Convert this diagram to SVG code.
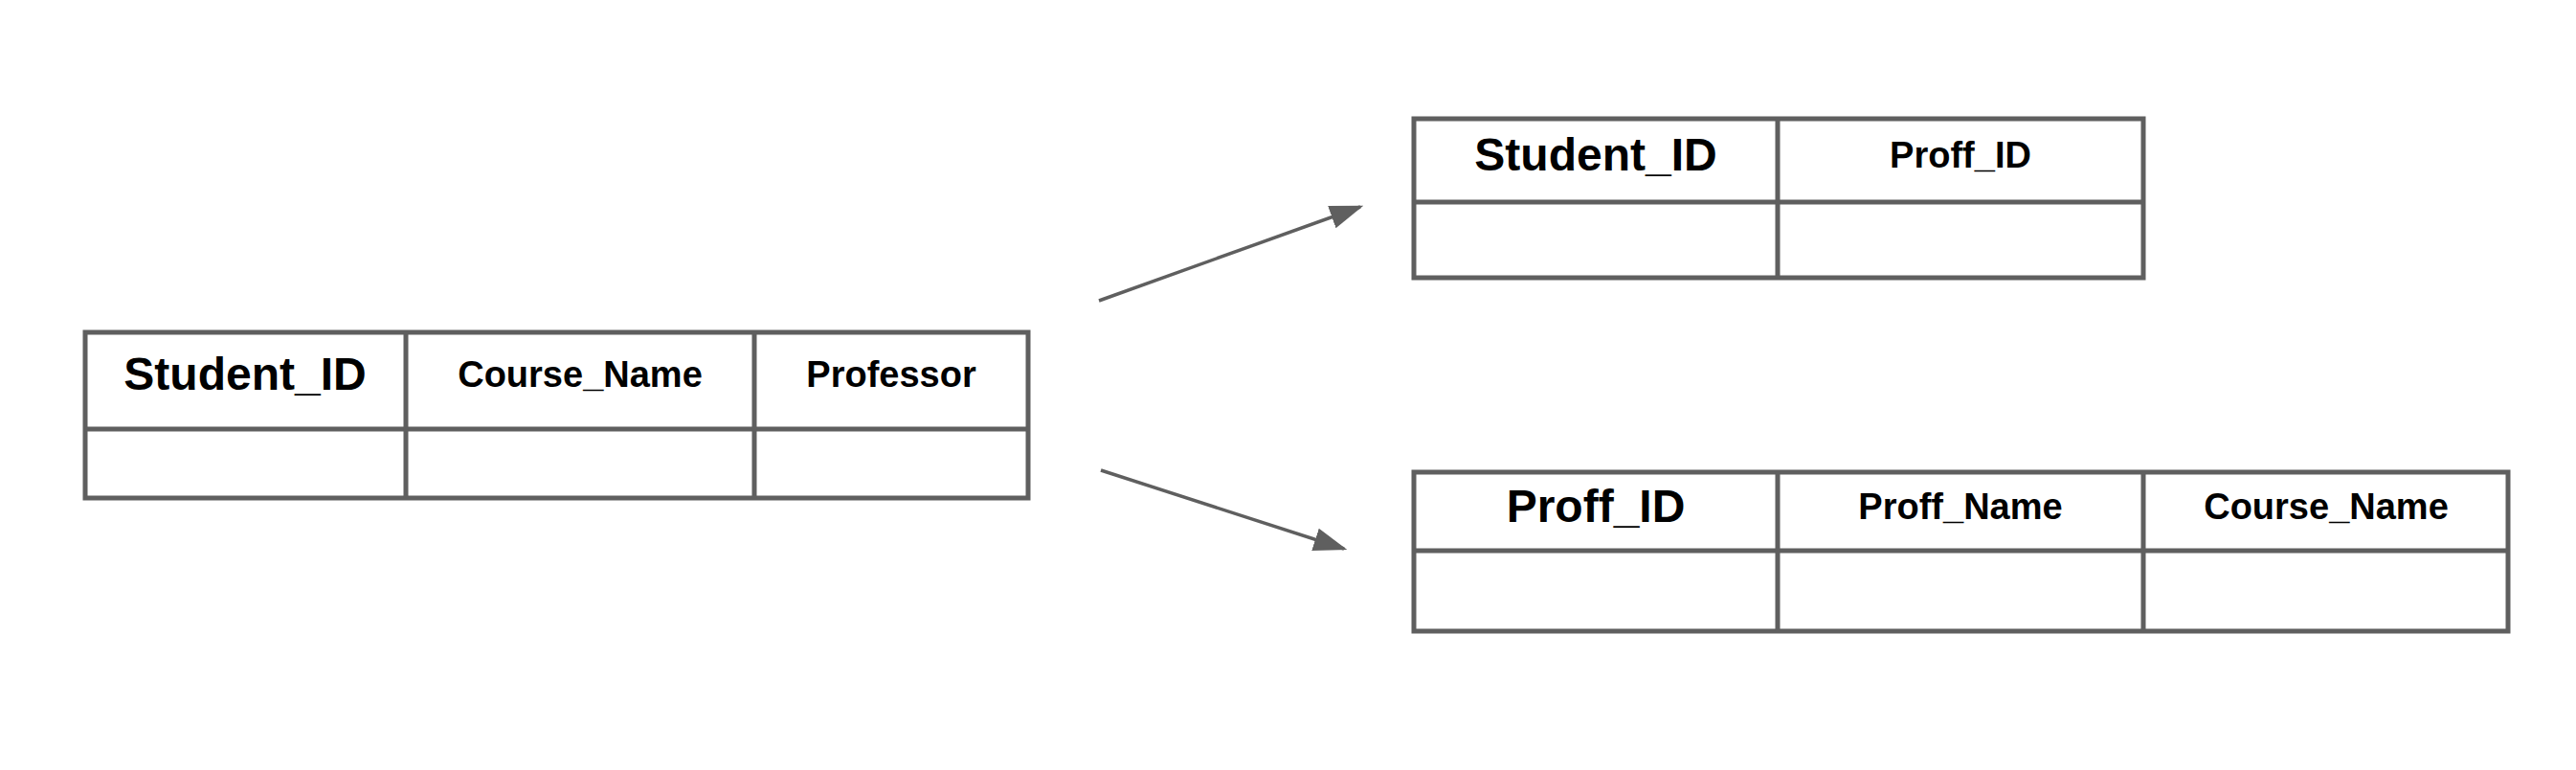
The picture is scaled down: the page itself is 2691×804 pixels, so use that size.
<svg xmlns="http://www.w3.org/2000/svg" width="2691" height="804" viewBox="0 0 2691 804">
<style>
.t{fill:#fff;stroke:#5f5f5f;stroke-width:5}
.l{stroke:#5f5f5f;stroke-width:5;fill:none}
.big{font-family:"Liberation Sans",Arial,sans-serif;font-weight:bold;font-size:48px;text-anchor:middle;fill:#000}
.sm{font-family:"Liberation Sans",Arial,sans-serif;font-weight:bold;font-size:38px;text-anchor:middle;fill:#000}
.c{stroke:#5f5f5f;stroke-width:3.5;fill:none}
</style>
<defs><marker id="a" viewBox="0 0 10 10" refX="9" refY="5" markerWidth="9" markerHeight="9" markerUnits="userSpaceOnUse" orient="auto"><path d="M0,0 L10,5 L0,10 z" fill="#5f5f5f"/></marker>
<marker id="b" viewBox="0 0 10 10" refX="9" refY="5" markerWidth="10" markerHeight="10" orient="auto"><path d="M0,1.5 L10,5 L0,8.5 z" fill="#5f5f5f"/></marker></defs>
<rect width="2691" height="804" fill="#fff"/>
<g id="table1">
<rect class="t" x="89" y="347" width="985" height="173"/>
<line class="l" x1="89" y1="448" x2="1074" y2="448"/>
<line class="l" x1="424" y1="347" x2="424" y2="520"/>
<line class="l" x1="788" y1="347" x2="788" y2="520"/>
<text class="big" x="256" y="407">Student_ID</text>
<text class="sm" x="606" y="404">Course_Name</text>
<text class="sm" x="931" y="404">Professor</text>
</g>
<g id="table2">
<rect class="t" x="1477" y="124" width="762" height="166"/>
<line class="l" x1="1477" y1="211" x2="2239" y2="211"/>
<line class="l" x1="1857" y1="124" x2="1857" y2="290"/>
<text class="big" x="1667" y="178">Student_ID</text>
<text class="sm" x="2048" y="175">Proff_ID</text>
</g>
<g id="table3">
<rect class="t" x="1477" y="493" width="1143" height="166"/>
<line class="l" x1="1477" y1="575" x2="2620" y2="575"/>
<line class="l" x1="1857" y1="493" x2="1857" y2="659"/>
<line class="l" x1="2239" y1="493" x2="2239" y2="659"/>
<text class="big" x="1667" y="545">Proff_ID</text>
<text class="sm" x="2048" y="542">Proff_Name</text>
<text class="sm" x="2430" y="542">Course_Name</text>
</g>
<g id="connectors">
<line class="c" x1="1148" y1="314" x2="1421" y2="216" marker-end="url(#b)"/>
<line class="c" x1="1150" y1="491" x2="1404" y2="573" marker-end="url(#b)"/>
</g>
</svg>
